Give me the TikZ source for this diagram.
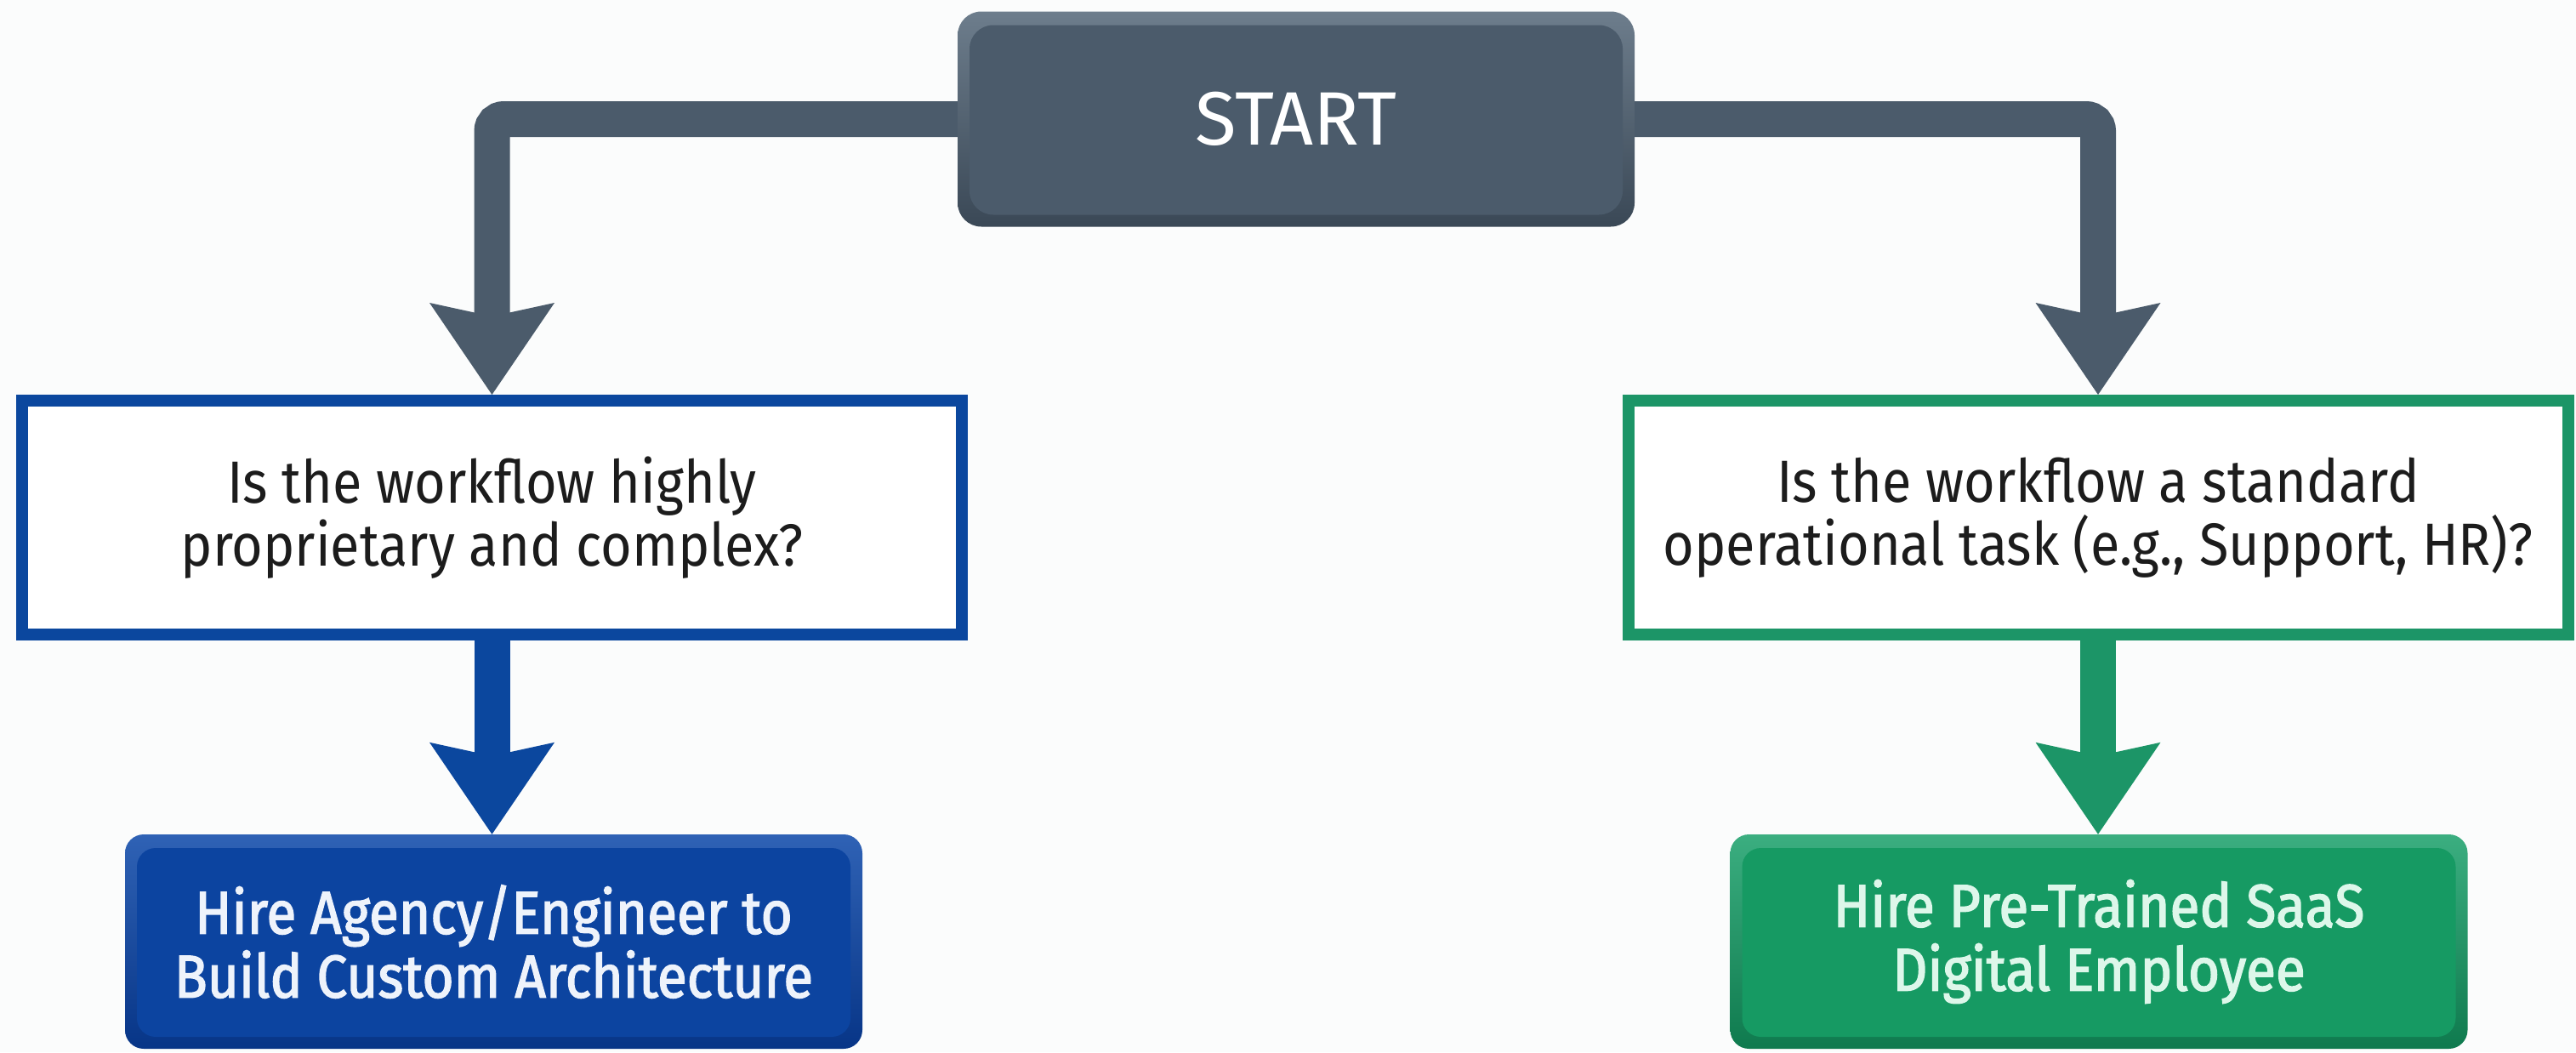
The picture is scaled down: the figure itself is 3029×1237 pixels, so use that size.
\documentclass[tikz,border=0pt]{standalone}
\usepackage{fontspec}
\setmainfont{Fira Sans}
\newfontfamily\condfont[FakeStretch=0.9]{Fira Sans}
\newfontfamily\medfont[FakeStretch=0.9, FakeBold=2]{Fira Sans}
\usetikzlibrary{arrows.meta}
\definecolor{bg}{HTML}{FBFCFC}
\definecolor{slate}{HTML}{4B5B6B}
\definecolor{slatehi}{HTML}{6D7D8C}
\definecolor{slatelo}{HTML}{3A4856}
\definecolor{blu}{HTML}{0B479E}
\definecolor{bluface}{HTML}{0C44A0}
\definecolor{bluhi}{HTML}{2F62B5}
\definecolor{blulo}{HTML}{073587}
\definecolor{grn}{HTML}{1C9567}
\definecolor{grnface}{HTML}{169A63}
\definecolor{grnhi}{HTML}{3BAE80}
\definecolor{grnlo}{HTML}{0F7A4E}
\definecolor{ink}{HTML}{1C1C1C}
\definecolor{bluetext}{HTML}{EEF3FB}
\definecolor{greentext}{HTML}{DDF7EA}
\begin{document}
\begin{tikzpicture}[x=1pt,y=-1pt,
  bevel/.style n args={4}{rounded corners=#4, top color=#1, bottom color=#2,
    path picture={\fill[#3, rounded corners=#4]
      ([shift={(14pt,-16pt)}]path picture bounding box.north west) rectangle
      ([shift={(-14pt,14pt)}]path picture bounding box.south east);}},
  startbox/.style={bevel={slatehi}{slatelo}{slate}{28pt}, minimum width=796pt,
    minimum height=253pt, text=white, font=\fontsize{89}{96}\selectfont},
  qbox/.style={draw=#1, line width=14pt, fill=white, minimum width=1105pt,
    minimum height=275pt, align=center, text=ink,
    font=\condfont\fontsize{70}{74}\selectfont},
  rbox/.style={minimum width=867pt, minimum height=252pt, align=center,
    font=\medfont\fontsize{71}{75}\selectfont},
  flow/.style={draw=#1, line width=42pt, rounded corners=14pt,
    -{Stealth[width=147pt 0 0, length=108pt 0 0, inset=16pt 0 0, line width=0pt]}}
]
\path[use as bounding box, fill=bg] (0,0) rectangle (3029,1237);

\node[startbox] (start) at (1524,140) {START};
\node[qbox=blu] (q1) at (578.5,608.5) {Is the workflow highly\\proprietary and complex?};
\node[qbox=grn] (q2) at (2467,608.5) {Is the workflow a standard\\operational task (e.g., Support, HR)?};
\node[rbox, bevel={bluhi}{blulo}{bluface}{22pt}, text=bluetext] (r1) at (580.5,1107)
  {Hire Agency/Engineer to\\Build Custom Architecture};
\node[rbox, bevel={grnhi}{grnlo}{grnface}{22pt}, text=greentext] (r2) at (2468,1107)
  {Hire Pre-Trained SaaS\\Digital Employee};

\draw[flow=slate] (start.west) -| (q1.north);
\draw[flow=slate] (start.east) -| (q2.north);
\draw[flow=blu] (q1.south) -- (q1.south |- r1.north);
\draw[flow=grn] (q2.south) -- (q2.south |- r2.north);
\end{tikzpicture}
\end{document}
